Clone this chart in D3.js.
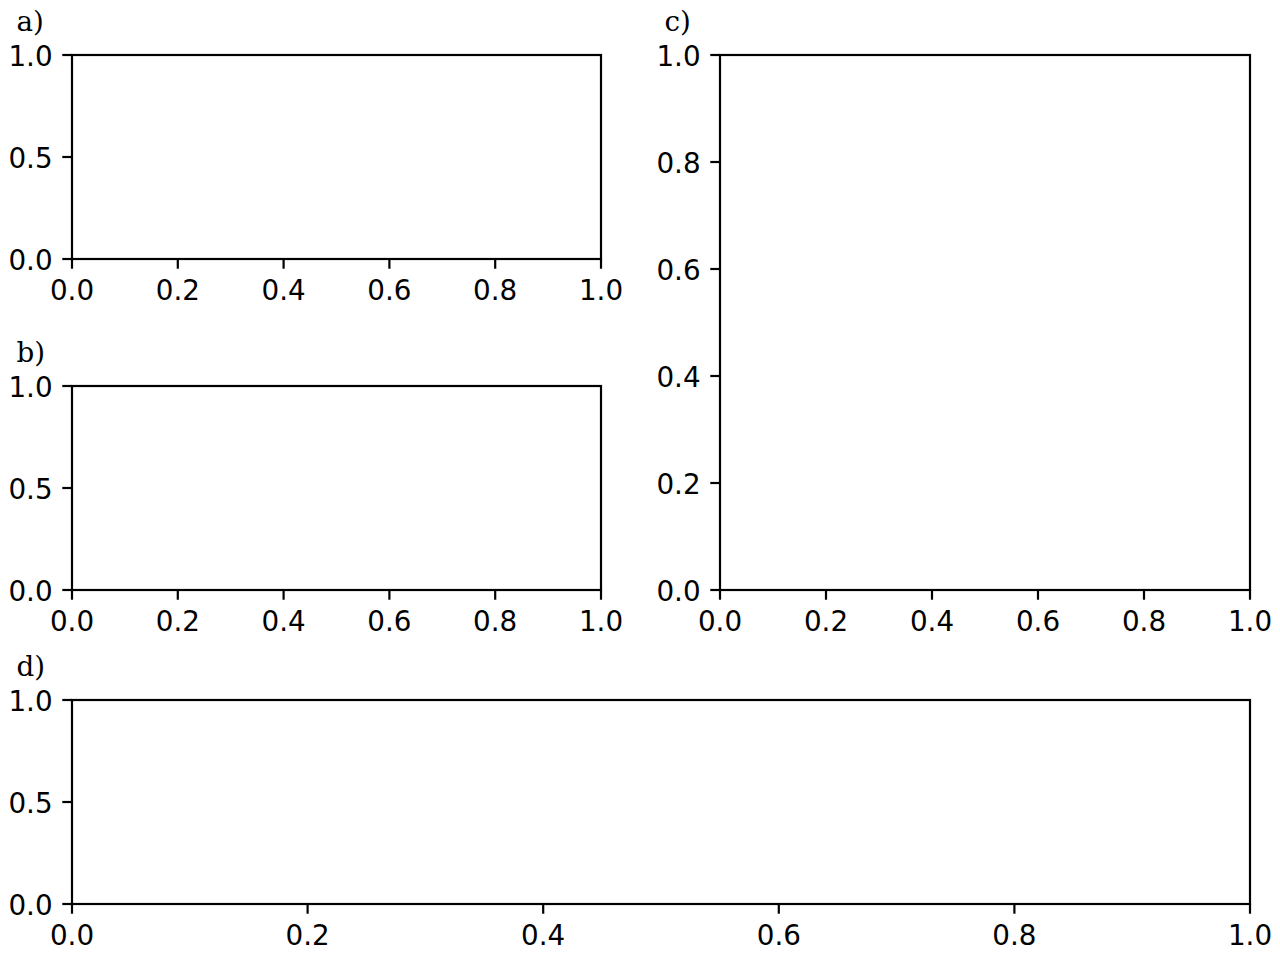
<!DOCTYPE html>
<html>
<head>
<meta charset="utf-8">
<script src="https://cdn.jsdelivr.net/npm/d3@7"></script>
<style>
  body { margin: 0; background: #fff; }
  svg { display: block; }
</style>
</head>
<body>
<svg width="1280" height="960"></svg>
<script>
// chart values
const panelNames = ["a)", "b)", "c)", "d)"]
const xTicks = [0.0, 0.2, 0.4, 0.6, 0.8, 1.0]
const yTicksShort = [0.0, 0.5, 1.0]
const yTicksTall = [0.0, 0.2, 0.4, 0.6, 0.8, 1.0]
const xDomain = [0, 1]
const yDomain = [0, 1]

// mosaic layout (pixels), one box per panel
const boxes = {
	"a)": {x0: 72, x1: 601, y0: 55, y1: 259, yTicks: yTicksShort},
	"b)": {x0: 72, x1: 601, y0: 386, y1: 590, yTicks: yTicksShort},
	"c)": {x0: 720, x1: 1250, y0: 55, y1: 590, yTicks: yTicksTall},
	"d)": {x0: 72, x1: 1250, y0: 700, y1: 904, yTicks: yTicksShort}
}

const lw = 2.2        // 0.8pt at 200 dpi
const tickLen = 9.72  // 3.5pt
const tickPad = 9.72
const fontPx = 27.78  // 10pt
const fmt = d3.format(".1f")

const svg = d3.select("svg")

panelNames.forEach(name => {
	const b = boxes[name]
	const x = d3.scaleLinear().domain(xDomain).range([b.x0, b.x1])
	const y = d3.scaleLinear().domain(yDomain).range([b.y1, b.y0])

	const g = svg.append("g").attr("class", "panel")

	// x axis
	const gx = g.append("g")
		.attr("transform", "translate(0," + b.y1 + ")")
		.call(d3.axisBottom(x).tickValues(xTicks).tickFormat(fmt)
			.tickSize(tickLen).tickPadding(tickPad).tickSizeOuter(0).offset(0))
	// y axis
	const gy = g.append("g")
		.attr("transform", "translate(" + b.x0 + ",0)")
		.call(d3.axisLeft(y).tickValues(b.yTicks).tickFormat(fmt)
			.tickSize(tickLen).tickPadding(tickPad).tickSizeOuter(0).offset(0))

	gx.select(".domain").remove()
	gy.select(".domain").remove()
	gx.selectAll("text").attr("dy", "0.76em")
	gy.selectAll("text").attr("dy", "0.4em")

	g.selectAll(".tick line")
		.attr("stroke", "#000")
		.attr("stroke-width", lw)
	g.selectAll(".tick text")
		.attr("fill", "#000")
		.style("font-family", "'DejaVu Sans', sans-serif")
		.style("font-size", fontPx + "px")

	// frame (spines)
	g.append("rect")
		.attr("x", b.x0)
		.attr("y", b.y0)
		.attr("width", b.x1 - b.x0)
		.attr("height", b.y1 - b.y0)
		.attr("fill", "none")
		.attr("stroke", "#000")
		.attr("stroke-width", lw)

	// panel label, 20pt left and 7pt above the top-left corner
	g.append("text")
		.attr("x", b.x0 - 55.6)
		.attr("y", b.y0 - 24)
		.style("font-family", "'DejaVu Serif', serif")
		.style("font-size", fontPx + "px")
		.attr("fill", "#000")
		.text(name)
})
</script>
</body>
</html>
